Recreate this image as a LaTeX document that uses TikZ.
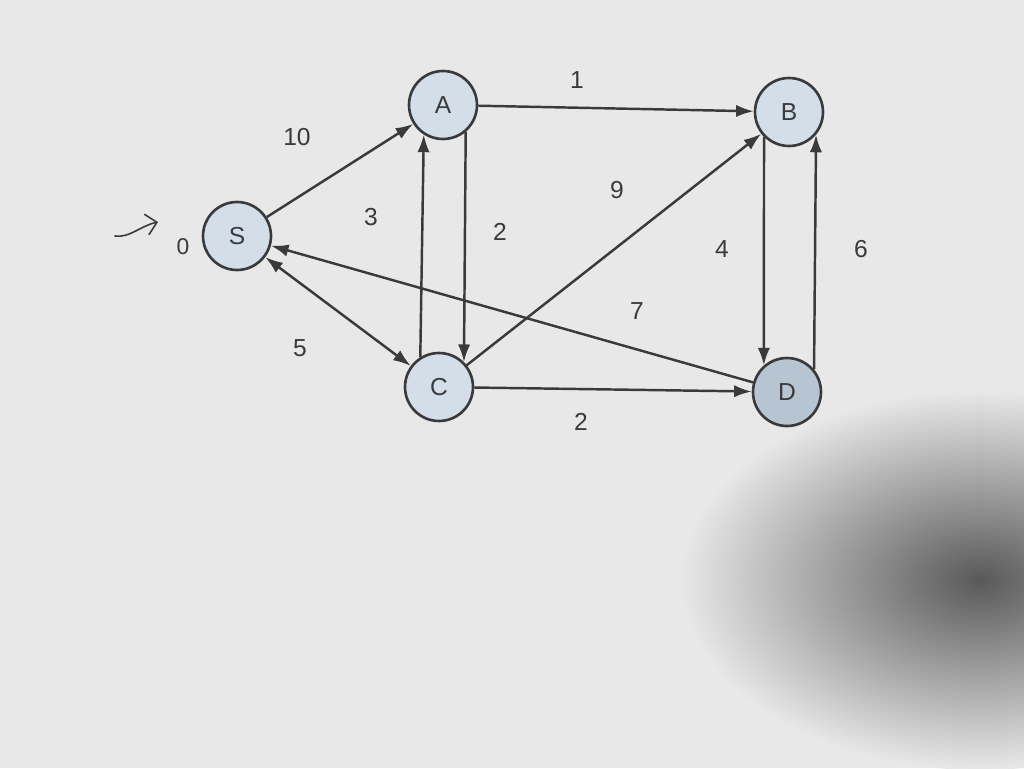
\documentclass[tikz,border=0pt]{standalone}
\usepackage{fontspec}
\setmainfont{Liberation Sans}
\usetikzlibrary{arrows.meta}
\definecolor{paper}{HTML}{E8E8E9}
\definecolor{nodeblue}{HTML}{D3DEE9}
\definecolor{nodedark}{HTML}{B7C5D3}
\definecolor{ink}{HTML}{3A3A3C}

\tikzset{
  vertex/.style={draw=ink, circle, line width=1.5pt, fill=nodeblue, minimum size=1.36cm, inner sep=0pt, font=\fontsize{14}{15}\selectfont, text=ink},
  weight/.style={font=\fontsize{14}{15}\selectfont, text=ink},
  edge/.style={-{Latex[length=10pt,width=7pt]}, line width=1.4pt, draw=ink}
}

\begin{document}
\begin{tikzpicture}[x=0.02cm, y=-0.02cm]
  % paper and shadow
  \fill[paper] (0,0) rectangle (1024,768);
  \begin{scope}
    \clip (0,0) rectangle (1024,768);
    \shade[inner color=black!65, outer color=paper] (980,580) ellipse (300 and 190);
  \end{scope}

  % vertices
  \node (S) [vertex] at (237,236) {S};
  \node (A) [vertex] at (443,105) {A};
  \node (B) [vertex] at (789,112) {B};
  \node (C) [vertex] at (439,387) {C};
  \node (D) [vertex, fill=nodedark] at (787,392) {D};

  % edges
  \draw[edge] (S) -- (A);
  \draw[edge] (A) -- (B);
  \draw[edge] (C.122) -- (A.237);
  \draw[edge] (A.-50) -- (C.45);
  \draw[edge] (C) -- (B);
  \draw[edge] (B.-135) -- (D.131);
  \draw[edge] (D.40) -- (B.-40);
  \draw[edge] (D) -- (S);
  \draw[edge, {Latex[length=10pt,width=7pt]}-{Latex[length=10pt,width=7pt]}] (S) -- (C);
  \draw[edge] (C) -- (D);

  % weights
  \node (w10) [weight] at (297,137) {10};
  \node (w1)  [weight] at (577,80)  {1};
  \node (w3)  [weight] at (371,217) {3};
  \node (w2a) [weight] at (500,232) {2};
  \node (w9)  [weight] at (617,190) {9};
  \node (w4)  [weight] at (722,249) {4};
  \node (w6)  [weight] at (861,249) {6};
  \node (w7)  [weight] at (637,311) {7};
  \node (w5)  [weight] at (300,348) {5};
  \node (w2b) [weight] at (581,422) {2};

  % handwritten start mark
  \coordinate (h1) at (115,236);
  \coordinate (h2) at (158,222);
  \draw[ink, line width=0.9pt, line cap=round, -{Straight Barb[length=6pt]}] (h1) .. controls (130,238) and (140,226) .. (h2);
  \node (zero) [font=\fontsize{13}{14}\selectfont, text=ink] at (183,247) {0};
\end{tikzpicture}
\end{document}
